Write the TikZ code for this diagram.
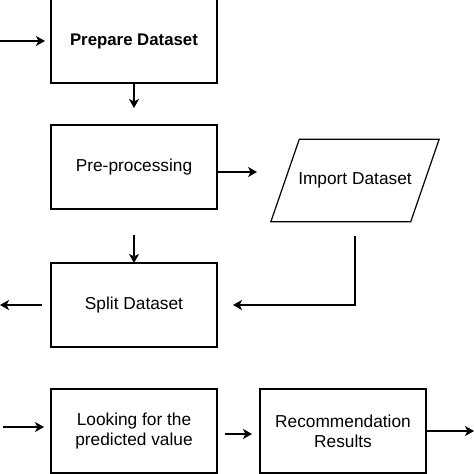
\documentclass[tikz,border=0pt]{standalone}
\usepackage{fontspec}
\setmainfont{Liberation Sans}
\usetikzlibrary{arrows.meta,positioning,shapes.geometric}

\begin{document}
\begin{tikzpicture}[x=1pt, y=-1pt,
  box/.style={draw, line width=1.2pt, outer sep=0pt, align=center,
    font=\fontsize{17.3}{20}\selectfont, minimum width=166pt, minimum height=84pt},
  iobox/.style={box, trapezium, trapezium left angle=71, trapezium right angle=109,
    minimum width=0pt, minimum height=0pt, inner xsep=-1pt, inner ysep=33.5pt},
  arr/.style={-{Stealth[length=9pt,width=10pt,inset=2.5pt]}, line width=1.2pt}]
\useasboundingbox (0,0) rectangle (474,474);
\node[box, font=\fontsize{16.8}{20}\selectfont\bfseries] (prep) at (134,41) {Prepare Dataset};
\node[box, below=42pt of prep] (pre) {Pre-processing};
\node[box, below=54pt of pre] (split) {Split Dataset};
\node[box, below=42pt of split] (look) {Looking for the\\predicted value};
\node[box, right=43pt of look] (rec) {Recommendation\\Results};
\node[iobox] (imp) at (355,180.5) {Import Dataset};
\coordinate (in1) at (0,41);
\coordinate (out1) at (0,306);
\coordinate (in2) at (3,427);
\coordinate (out2) at (474,431);
\draw[arr, shorten >=6pt] (in1) -- (prep.west);
\draw[arr, shorten >=17pt] (prep) -- (pre);
\draw[arr, shorten >=28pt] ([yshift=-5pt]pre.east) -- ([yshift=-5pt]pre.east -| imp.west);
\draw[arr, shorten <=14pt, shorten >=16pt] (imp.south) |- (split.east);
\draw[arr, shorten <=26pt] (pre) -- (split);
\draw[arr, shorten <=9pt] (split.west) -- (split.west -| out1);
\draw[arr, shorten >=7pt] (in2) -- (in2 -| look.west);
\draw[arr, shorten <=8pt, shorten >=8pt] ([yshift=-3pt]look.east) -- ([yshift=-3pt]rec.west);
\draw[arr] (rec.east) -- (out2);
\end{tikzpicture}
\end{document}
